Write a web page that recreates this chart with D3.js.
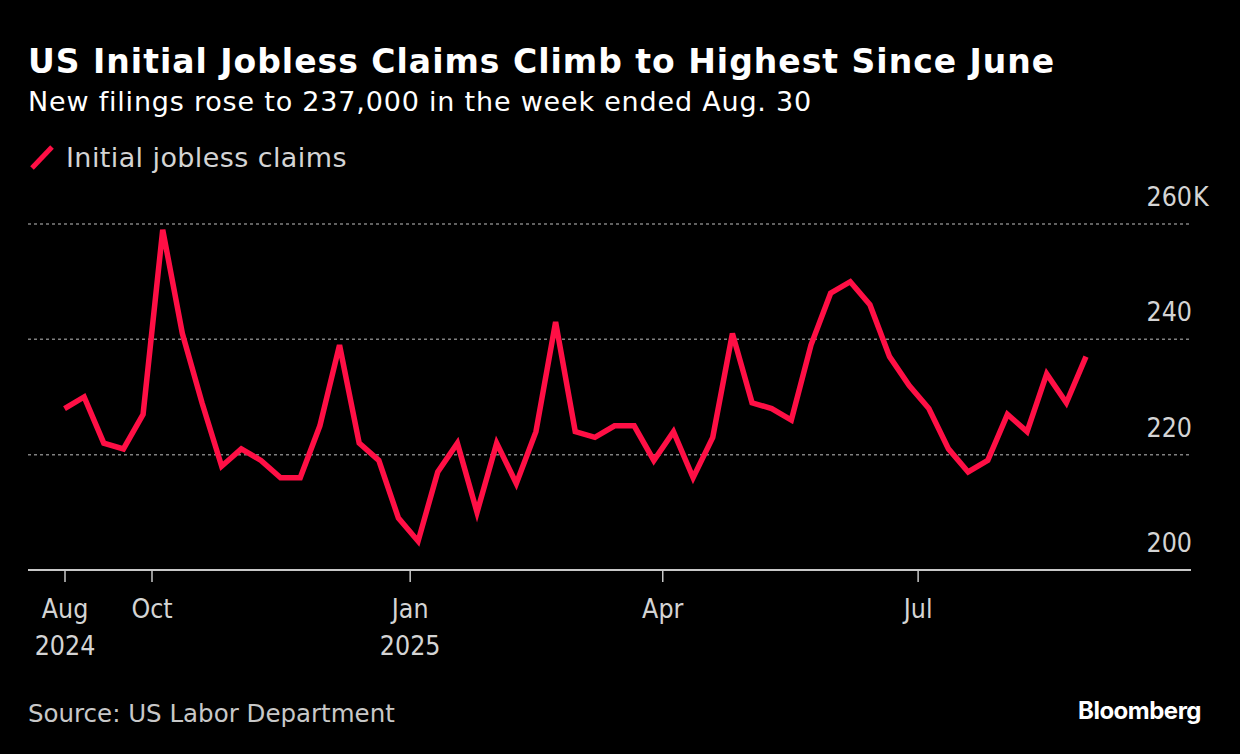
<!DOCTYPE html>
<html>
<head>
<meta charset="utf-8">
<style>
  html, body { margin: 0; padding: 0; background: #000; }
  svg text { font-family: "DejaVu Sans", sans-serif; }
  .cond { font-family: "DejaVu Sans Condensed", "DejaVu Sans", sans-serif; font-stretch: condensed; }
  .grid line { stroke: #808080; stroke-width: 1.5; stroke-dasharray: 3,3; }
  .ylab { fill: #d4d4d4; font-size: 26.5px; }
  .xaxis .tick line { stroke: #c8c8c8; stroke-width: 1.5; }
  .xaxis .tick text { fill: #d4d4d4; font-size: 26.5px; }
</style>
</head>
<body>
<svg width="1240" height="754"></svg>
<script src="https://cdn.jsdelivr.net/npm/d3@7"></script>
<script>

// week-ended dates, Aug 31 2024 .. Aug 30 2025
var weeks = [
  "2024-08-31","2024-09-07","2024-09-14","2024-09-21","2024-09-28",
  "2024-10-05","2024-10-12","2024-10-19","2024-10-26","2024-11-02",
  "2024-11-09","2024-11-16","2024-11-23","2024-11-30","2024-12-07",
  "2024-12-14","2024-12-21","2024-12-28","2025-01-04","2025-01-11",
  "2025-01-18","2025-01-25","2025-02-01","2025-02-08","2025-02-15",
  "2025-02-22","2025-03-01","2025-03-08","2025-03-15","2025-03-22",
  "2025-03-29","2025-04-05","2025-04-12","2025-04-19","2025-04-26",
  "2025-05-03","2025-05-10","2025-05-17","2025-05-24","2025-05-31",
  "2025-06-07","2025-06-14","2025-06-21","2025-06-28","2025-07-05",
  "2025-07-12","2025-07-19","2025-07-26","2025-08-02","2025-08-09",
  "2025-08-16","2025-08-23","2025-08-30"
];

// initial jobless claims, thousands
var claims = [
  228, 230, 222, 221, 227,
  259, 241, 229, 218, 221,
  219, 216, 216, 225, 239,
  222, 219, 209, 205, 217,
  222, 210, 222, 215, 224,
  243, 224, 223, 225, 225,
  219, 224, 216, 223, 241,
  229, 228, 226, 239, 248,
  250, 246, 237, 232, 228,
  221, 217, 219, 227, 224,
  234, 229, 237
];

var yTicks = [200, 220, 240, 260];
var xTicks = ["2024-08-31", "2024-10-01", "2025-01-01", "2025-04-01", "2025-07-01"];
var xTickLabels = [["Aug", "2024"], ["Oct"], ["Jan", "2025"], ["Apr"], ["Jul"]];

var svg = d3.select("svg");
var parse = d3.timeParse("%Y-%m-%d");
var data = weeks.map(function (w, i) { return { date: parse(w), value: claims[i] }; });

var left = 28, right = 1191, bottom = 570;

var x = d3.scaleTime()
  .domain([parse("2024-08-31"), parse("2025-08-30")])
  .range([64.5, 1086]);

var y = d3.scaleLinear()
  .domain([200, 260])
  .range([bottom, 224]);

svg.append("rect").attr("width", 1240).attr("height", 754).attr("fill", "#000");

// titles
svg.append("text")
  .attr("x", 28).attr("y", 73)
  .attr("fill", "#fff")
  .style("font-size", "33px").style("font-weight", "bold")
  .style("letter-spacing", "1px")
  .text("US Initial Jobless Claims Climb to Highest Since June");

svg.append("text")
  .attr("x", 28).attr("y", 111)
  .attr("fill", "#fff")
  .style("font-size", "27px")
  .style("letter-spacing", "0.8px")
  .text("New filings rose to 237,000 in the week ended Aug. 30");

// legend
svg.append("line")
  .attr("x1", 32).attr("y1", 168).attr("x2", 52).attr("y2", 147)
  .attr("stroke", "#ff0f45").attr("stroke-width", 5);
svg.append("text")
  .attr("x", 66).attr("y", 167)
  .attr("fill", "#d4d4d4")
  .style("font-size", "27px")
  .style("letter-spacing", "0.4px")
  .text("Initial jobless claims");

// grid
var grid = svg.append("g").attr("class", "grid");
grid.selectAll("line")
  .data(yTicks.filter(function (d) { return d > 200; }))
  .enter().append("line")
  .attr("x1", left).attr("x2", right)
  .attr("y1", function (d) { return y(d); })
  .attr("y2", function (d) { return y(d); });

// y labels sit above their gridline, right aligned
svg.selectAll(".ylab")
  .data(yTicks)
  .enter().append("text")
  .attr("class", "ylab cond")
  .attr("x", right + 1)
  .attr("y", function (d) { return y(d) - 18; })
  .attr("text-anchor", "end")
  .text(function (d) { return d; });

svg.append("text")
  .attr("class", "ylab cond")
  .attr("x", right + 2)
  .attr("y", y(260) - 18)
  .text("K");

// x axis
var xAxis = svg.append("g")
  .attr("class", "xaxis")
  .attr("transform", "translate(0," + bottom + ")")
  .call(d3.axisBottom(x)
    .tickValues(xTicks.map(parse))
    .tickSize(12)
    .tickFormat(""));

xAxis.select(".domain").remove();
xAxis.append("line")
  .attr("x1", left).attr("x2", right)
  .attr("stroke", "#c8c8c8").attr("stroke-width", 2);

xAxis.selectAll(".tick text").remove();
xAxis.selectAll(".tick").each(function (d, i) {
  var t = d3.select(this).append("text")
    .attr("class", "cond")
    .attr("y", 48)
    .attr("text-anchor", "middle");
  xTickLabels[i].forEach(function (s, j) {
    t.append("tspan").attr("x", 0).attr("y", 48 + j * 37).text(s);
  });
});

// line
svg.append("path")
  .datum(data)
  .attr("fill", "none")
  .attr("stroke", "#ff0f45")
  .attr("stroke-width", 5.5)
  .attr("stroke-linejoin", "miter")
  .attr("d", d3.line()
    .x(function (d) { return x(d.date); })
    .y(function (d) { return y(d.value); }));

// footer
svg.append("text")
  .attr("x", 28).attr("y", 722)
  .attr("fill", "#c8c8c8")
  .style("font-size", "24.5px")
  .text("Source: US Labor Department");

svg.append("text")
  .attr("x", 1201).attr("y", 719)
  .attr("text-anchor", "end")
  .attr("fill", "#fff")
  .style("font-family", "Inter, 'Open Sans', sans-serif")
  .style("font-size", "24px").style("font-weight", "bold")
  .style("letter-spacing", "-0.5px")
  .text("Bloomberg");

</script>
</body>
</html>
